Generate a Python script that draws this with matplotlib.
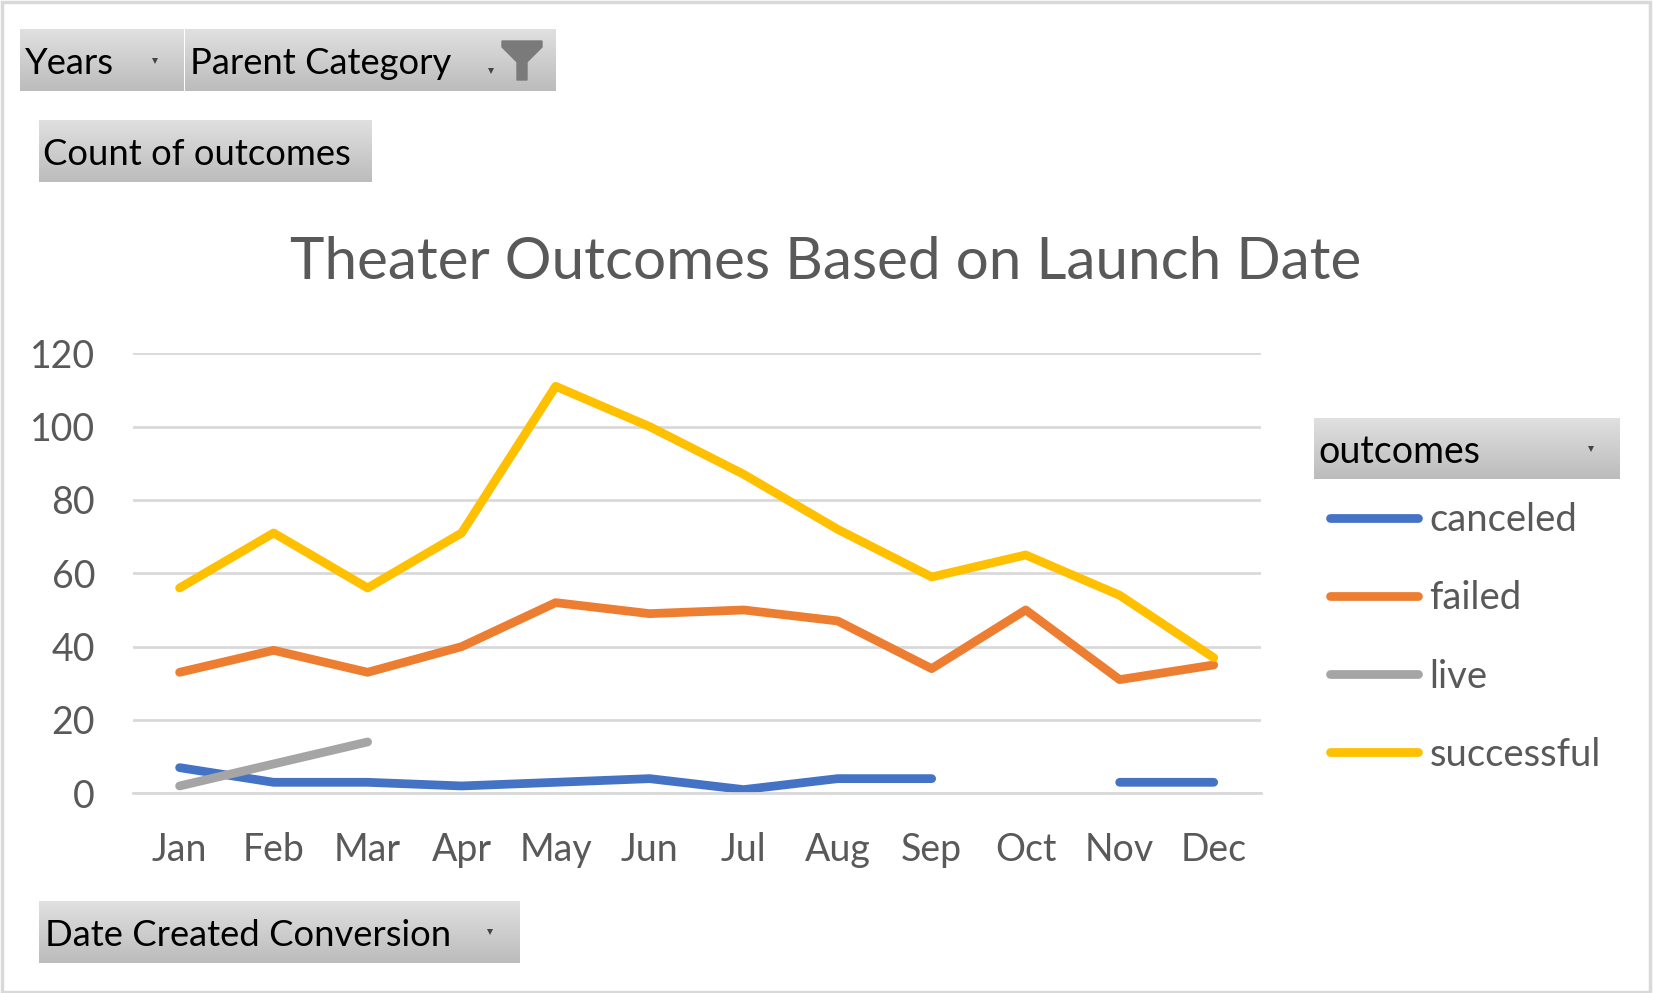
import numpy as np
import matplotlib
matplotlib.use('Agg')
import matplotlib.pyplot as plt
from matplotlib.colors import LinearSegmentedColormap
from matplotlib.patches import Rectangle, Polygon

plt.rcParams['font.family'] = ['Lato', 'DejaVu Sans']

months = ['Jan', 'Feb', 'Mar', 'Apr', 'May', 'Jun',
          'Jul', 'Aug', 'Sep', 'Oct', 'Nov', 'Dec']
canceled = [7, 3, 3, 2, 3, 4, 1, 4, 4, np.nan, 3, 3]
failed = [33, 39, 33, 40, 52, 49, 50, 47, 34, 50, 31, 35]
live = [2, 8, 14, np.nan, np.nan, np.nan, np.nan, np.nan, np.nan, np.nan, np.nan, np.nan]
successful = [56, 71, 56, 71, 111, 100, 87, 72, 59, 65, 54, 37]
yticks = [0, 20, 40, 60, 80, 100, 120]

W, H = 1653, 993
txt_col = '#595959'
grid_col = '#d9d9d9'


def px_box(x0, y0, x1, y1):
    return [x0 / W, 1 - y1 / H, (x1 - x0) / W, (y1 - y0) / H]


btn_cmap = LinearSegmentedColormap.from_list('btn', ['#e0e0e0', '#bcbcbc'])
grad = np.linspace(0, 1, 64).reshape(-1, 1)


def button(fig, x0, y0, x1, y1, label, tx, arrow=None, size=26.2):
    bax = fig.add_axes(px_box(x0, y0, x1, y1))
    bax.imshow(grad, cmap=btn_cmap, aspect='auto', extent=(x0, x1, y1, y0))
    bax.set_xlim(x0, x1)
    bax.set_ylim(y1, y0)
    bax.axis('off')
    bax.text(tx, (y0 + y1) / 2 + 3.5, label, ha='left', va='center',
             fontsize=size, color='black')
    if arrow is not None:
        bax.plot(arrow[0], arrow[1], marker='v', color='#444444',
                 markersize=4, markeredgewidth=0)
    return bax


fig = plt.figure(figsize=(W / 100, H / 100), dpi=100)
fig.patches.append(Rectangle((0.001, 0.0015), 0.997, 0.996, transform=fig.transFigure,
                             fill=False, edgecolor=grid_col, linewidth=2.5))

ax = fig.add_axes([132.6 / W, 1 - 793.3 / H, (1260.7 - 132.6) / W, 440 / H])
x = np.arange(len(months))
lw = 6.3
ax.plot(x, canceled, color='#4472c4', lw=lw, solid_capstyle='round',
        solid_joinstyle='round', label='canceled')
ax.plot(x, failed, color='#ed7d31', lw=lw, solid_capstyle='round',
        solid_joinstyle='round', label='failed')
ax.plot(x, live, color='#a5a5a5', lw=lw, solid_capstyle='round',
        solid_joinstyle='round', label='live')
ax.plot(x, successful, color='#ffc000', lw=lw, solid_capstyle='round',
        solid_joinstyle='round', label='successful')

ax.set_xlim(-0.5, 11.5)
ax.set_ylim(0, 120)
ax.set_yticks(yticks)
ax.set_xticks(x)
ax.set_xticklabels(months)
ax.grid(axis='y', color=grid_col, lw=2)
ax.set_axisbelow(True)
for s in ['top', 'right', 'left']:
    ax.spines[s].set_visible(False)
ax.spines['bottom'].set_color(grid_col)
ax.spines['bottom'].set_linewidth(2)
ax.tick_params(length=0, labelsize=27, colors=txt_col)
ax.tick_params(axis='y', pad=27)
ax.tick_params(axis='x', pad=28)
ax.patch.set_alpha(0)

fig.text(0.4997, 0.736, 'Theater Outcomes Based on Launch Date', ha='center',
         va='center', fontsize=42, color=txt_col)

h, l = ax.get_legend_handles_labels()
fig.legend(h, l, loc='center left', bbox_to_anchor=(1330 / W, 1 - 637.5 / H),
           frameon=False, fontsize=27.5, labelcolor=txt_col, handlelength=2.3,
           handletextpad=0.3, labelspacing=1.1, borderpad=0, borderaxespad=0)

# pivot field buttons
button(fig, 20, 29, 184, 91, 'Years', 25, arrow=(155, 61))
pc = button(fig, 185, 29, 556, 91, 'Parent Category', 190, arrow=(491, 71))
pc.add_patch(Polygon([(502, 41), (542, 41), (542, 47), (527, 62), (527, 80),
                      (517, 80), (517, 62), (502, 47)], closed=True,
                     color='#7a7a7a'))
button(fig, 39, 120, 372, 182, 'Count of outcomes', 43)
button(fig, 1314, 418, 1620, 479, 'outcomes', 1318, arrow=(1591, 449), size=27)
button(fig, 39, 901, 520, 963, 'Date Created Conversion', 45, arrow=(490, 932))

fig.savefig('out.png', dpi=100)
